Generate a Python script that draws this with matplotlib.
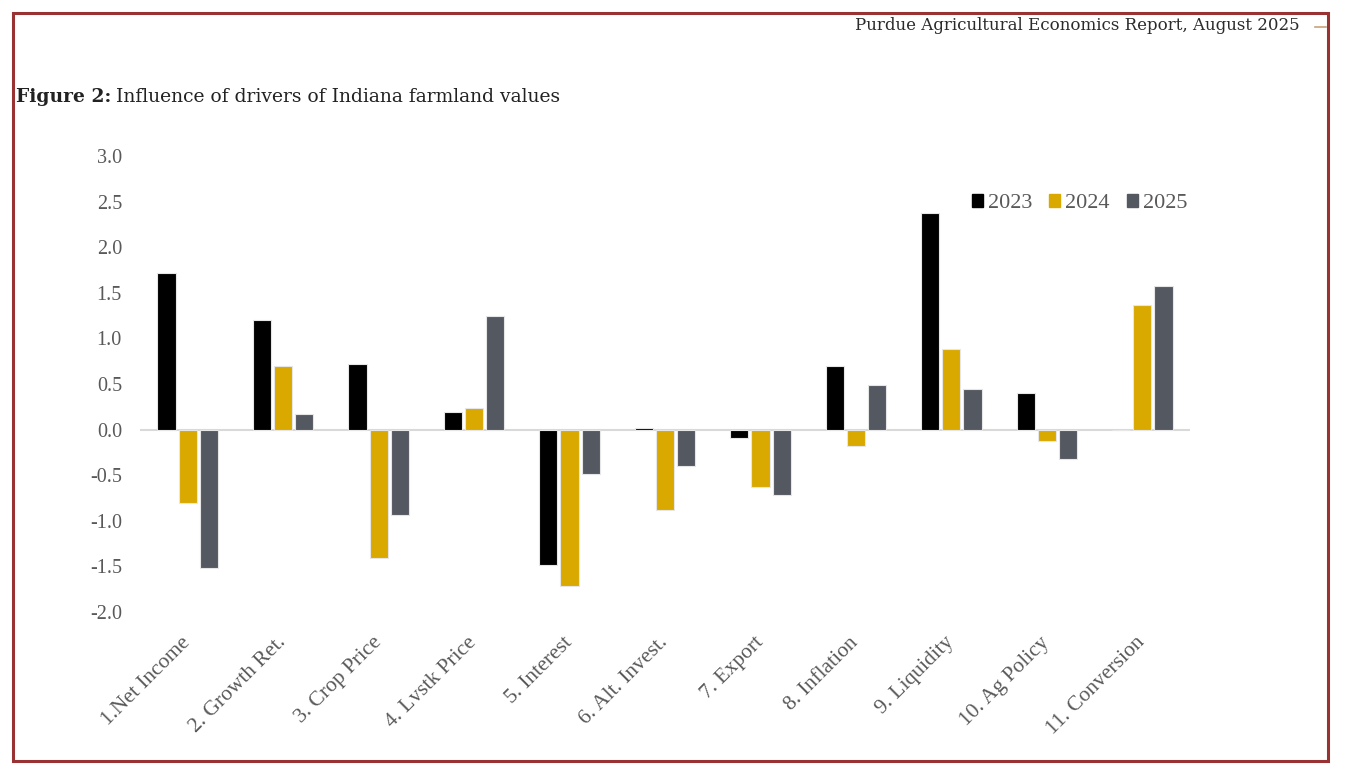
import matplotlib
matplotlib.use("Agg")
import matplotlib.pyplot as plt
import numpy as np
from matplotlib.patches import Rectangle
from matplotlib.lines import Line2D

categories = ["1.Net Income", "2. Growth Ret.", "3. Crop Price", "4. Lvstk Price",
              "5. Interest", "6. Alt. Invest.", "7. Export", "8. Inflation",
              "9. Liquidity", "10. Ag Policy", "11. Conversion"]
years = ["2023", "2024", "2025"]
v2023 = [1.72, 1.20, 0.72, 0.19, -1.49, 0.02, -0.09, 0.70, 2.37, 0.40, 0.0]
v2024 = [-0.80, 0.70, -1.41, 0.24, -1.71, -0.88, -0.63, -0.18, 0.88, -0.13, 1.37]
v2025 = [-1.52, 0.17, -0.94, 1.25, -0.49, -0.40, -0.72, 0.49, 0.45, -0.32, 1.57]
yticks = [3.0, 2.5, 2.0, 1.5, 1.0, 0.5, 0.0, -0.5, -1.0, -1.5, -2.0]

colors = ["#000000", "#D9A900", "#545860"]
series = [v2023, v2024, v2025]

W, H = 1346, 780
fig = plt.figure(figsize=(W / 100, H / 100), dpi=100)
fig.patch.set_facecolor("white")

ax = fig.add_axes([140 / W, 1 - 612 / H, 1050 / W, (612 - 156) / H])
x = np.arange(len(categories))
bw = 0.19
step = 0.222
for i, (vals, c, yr) in enumerate(zip(series, colors, years)):
    ax.bar(x + (i - 1) * step, vals, width=bw, color=c, edgecolor="#E6E6E6",
           linewidth=0.8, label=yr, zorder=3)

ax.axhline(0, color="#D9D9D9", linewidth=1.5, zorder=2)
ax.set_xlim(-0.5, len(categories) - 0.5)
ax.set_ylim(-2.0, 3.0)
ax.set_yticks(yticks)
ax.set_yticklabels([f"{t:.1f}" for t in yticks])
ax.set_xticks(x)
ax.set_xticklabels(categories, rotation=45, ha="right", va="center",
                   rotation_mode="anchor")
for s in ax.spines.values():
    s.set_visible(False)
ax.tick_params(axis="y", length=0, labelsize=14.5, labelcolor="#595959", pad=13)
ax.tick_params(axis="x", length=0, labelsize=15.5, labelcolor="#595959", pad=20)
for lab in ax.get_xticklabels() + ax.get_yticklabels():
    lab.set_fontfamily("Liberation Serif")

handles = [Rectangle((0, 0), 1, 1, color=c) for c in colors]
leg = ax.legend(handles, years, loc="center right", bbox_to_anchor=(1.012, 0.895),
                ncol=3, frameon=False, handlelength=0.5, handleheight=0.5,
                handletextpad=0.22, columnspacing=0.75, borderpad=0.2,
                prop={"family": "Liberation Serif", "size": 16})
for t in leg.get_texts():
    t.set_color("#595959")

# frame
fig.add_artist(Rectangle((13 / W, 1 - 761 / H), (1328 - 13) / W, (761 - 13) / H,
                         transform=fig.transFigure, fill=False,
                         edgecolor="#993333", linewidth=2.2))
fig.text(1300 / W, 1 - 26 / H, "Purdue Agricultural Economics Report, August 2025",
         ha="right", va="center", fontsize=12, family="DejaVu Serif", color="#2b2b2b")
fig.add_artist(Line2D([1315 / W, 1326 / W], [1 - 27 / H, 1 - 27 / H],
                      transform=fig.transFigure, color="#C9A27E", linewidth=1.2))
t1 = fig.text(16 / W, 1 - 97 / H, "Figure 2:", ha="left", va="center", fontsize=13.5,
              family="DejaVu Serif", weight="bold", color="#222222")
fig.canvas.draw()
bb = t1.get_window_extent()
fig.text(bb.x1 / W + 5 / W, 1 - 97 / H, "Influence of drivers of Indiana farmland values",
         ha="left", va="center", fontsize=13.5, family="DejaVu Serif", color="#222222")

fig.savefig("out.png", dpi=100, facecolor="white")
